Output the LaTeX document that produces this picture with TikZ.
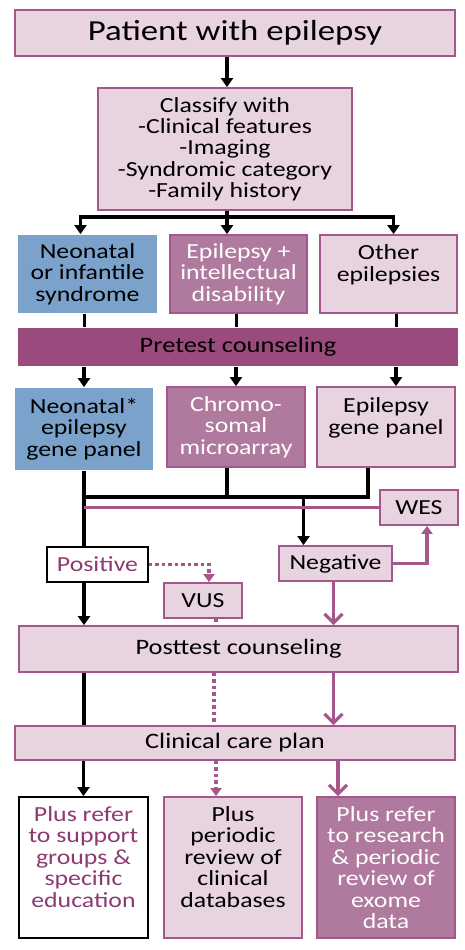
\documentclass[tikz,border=0pt]{standalone}
\usepackage{fontspec}
\setmainfont{Carlito}[FakeStretch=1.2]
\usetikzlibrary{arrows.meta,positioning}
\definecolor{boxpink}{HTML}{E8D3E1}
\definecolor{edgepurple}{HTML}{A5568B}
\definecolor{boxblue}{HTML}{7AA2CB}
\definecolor{midpurple}{HTML}{B07A9E}
\definecolor{barpurple}{HTML}{9B4A7D}
\definecolor{textpurple}{HTML}{8E3A72}
\begin{document}
\begin{tikzpicture}[x=1pt,y=-1pt,
    box/.style={draw=edgepurple,line width=1.8pt,fill=boxpink,align=center,inner sep=0pt,
      font=\fontsize{21.5}{21.5}\selectfont},
    bluebox/.style={box,draw=none,fill=boxblue},
    midbox/.style={box,fill=midpurple,text=white},
    whitebox/.style={box,draw=black,fill=white,text=textpurple},
    blk/.style={line width=3.2pt,black},
    blkarr/.style={blk,-{Triangle[width=12pt,length=9pt]}},
    pur/.style={line width=3.2pt,edgepurple},
    purarr/.style={pur,-{Straight Barb[width=18pt,length=9pt]}},
    purtri/.style={pur,-{Triangle[width=11pt,length=8pt]}},
    dots/.style={pur,dash pattern=on 3.5pt off 3pt},
    dotarr/.style={dots,-{Triangle[width=11pt,length=8pt]}}]
  \useasboundingbox (0,0) rectangle (464,950);
  % top of the chart
  \node[box,font=\fontsize{29}{30}\selectfont,minimum width=440,minimum height=46] (patient) at (235,33) {Patient with epilepsy};
  \node[box,font=\fontsize{21.5}{21.3}\selectfont,minimum width=254,minimum height=122] (classify) at (225,149)
    {Classify with\\-Clinical features\\-Imaging\\-Syndromic category\\-Family history};
  % syndromes
  \node[bluebox,minimum width=139,minimum height=78] (neo) at (87.5,274) {Neonatal\\or infantile\\syndrome};
  \node[midbox,minimum width=137,minimum height=78] (eid) at (238.5,274) {Epilepsy +\\intellectual\\disability};
  \node[box,minimum width=137,minimum height=78] (other) at (388.5,274) {Other\\epilepsies\\\mbox{}};
  \node[box,draw=none,fill=barpurple,font=\fontsize{22}{22}\selectfont,minimum width=440,minimum height=38] (pretest) at (238,347) {Pretest counseling};
  % tests
  \node[bluebox,minimum width=138,minimum height=82] (npanel) at (84,429) {Neonatal*\\epilepsy\\gene panel};
  \node[midbox,minimum width=138,minimum height=80] (micro) at (236,427) {Chromo-\\somal\\microarray};
  \node[box,minimum width=138,minimum height=80] (panel) at (386,427) {Epilepsy\\gene panel\\\mbox{}};
  \node[box,minimum width=78,minimum height=35] (wes) at (419,507.5) {WES};
  % results
  \node[whitebox,minimum width=101,minimum height=35] (positive) at (97.5,564.5) {Positive};
  \node[box,minimum width=78,minimum height=35] (vus) at (203,600.5) {VUS};
  \node[box,minimum width=113,minimum height=35] (negative) at (335.5,563.5) {Negative};
  \node[box,font=\fontsize{22}{22}\selectfont,minimum width=439,minimum height=46] (posttest) at (238.5,649) {Posttest counseling};
  \node[box,font=\fontsize{22}{22}\selectfont,minimum width=440,minimum height=34] (care) at (235,743) {Clinical care plan};
  % follow up
  \node[whitebox,minimum width=129,minimum height=141] (refer) at (83.5,867.5)
    {Plus refer\\to support\\groups \&\\specific\\education\\\mbox{}};
  \node[box,minimum width=138,minimum height=141] (review) at (233,867.5)
    {Plus\\periodic\\review of\\clinical\\databases\\\mbox{}};
  \node[midbox,minimum width=138,minimum height=141] (research) at (386,867.5)
    {Plus refer\\to research\\\& periodic\\review of\\exome\\data};
  % connectors
  \coordinate (split) at (227,217);
  \coordinate (jl) at (84,497);
  \coordinate (jr) at (368,497);
  \draw[blkarr] (patient.south -| split) -- (classify.north -| split);
  \draw[blk] (classify.south -| split) -- (split);
  \draw[blkarr] (split) -| ([xshift=-7pt]neo.north);
  \draw[blkarr] (split) -- (split |- eid.north);
  \draw[blkarr] (split) -| ([xshift=5pt]other.north);
  \draw[blk] ([xshift=-3pt]neo.south) -- ([xshift=-3pt]neo.south |- pretest.north);
  \draw[blk] ([xshift=-2pt]eid.south) -- ([xshift=-2pt]eid.south |- pretest.north);
  \draw[blk] ([xshift=8pt]other.south) -- ([xshift=8pt]other.south |- pretest.north);
  \draw[blkarr] (pretest.south -| npanel.north) -- (npanel.north);
  \draw[blkarr] (pretest.south -| micro.north) -- (micro.north);
  \draw[blkarr] (pretest.south -| panel.north) ++(10,0) -- ([xshift=10pt]panel.north);
  \draw[blk] (npanel.south) -- (positive.north -| npanel.south);
  \draw[blk] ([xshift=-9pt]micro.south) -- ([xshift=-9pt]micro.south |- jl);
  \draw[blk] ([xshift=-18pt]panel.south) -- (jr) -- (jl);
  \draw[blkarr] (jr -| negative.north) ++(-32,0) -- ([xshift=-32pt]negative.north);
  \draw[pur] (wes.west) -- (wes.west -| npanel.south);
  \draw[dotarr] (positive.east) -| ([xshift=6pt]vus.north);
  \draw[purtri] (negative.east) -| ([xshift=8pt]wes.south);
  \draw[blkarr] (positive.south -| npanel.south) -- (posttest.north -| npanel.south);
  \draw[purarr] ([xshift=-2pt]negative.south) -- ([xshift=-2pt]negative.south |- posttest.north);
  \draw[dots] ([xshift=13pt]vus.south) -- ([xshift=13pt]vus.south |- posttest.north);
  % after counseling
  \draw[blk] (posttest.south -| npanel.south) -- (care.north -| npanel.south);
  \draw[dots] (posttest.south -| review.north) ++(-19,0) -- ([xshift=-19pt]care.north -| review.north);
  \draw[purarr] (posttest.south -| negative.south) ++(-2,0) -- ([xshift=-2pt]care.north -| negative.south);
  \draw[blkarr] (care.south -| refer.north) -- (refer.north);
  \draw[dotarr] (care.south -| review.north) ++(-17,0) -- ([xshift=-17pt]review.north);
  \draw[purarr] (care.south -| research.north) ++(-48,0) -- ([xshift=-48pt]research.north);
\end{tikzpicture}
\end{document}
